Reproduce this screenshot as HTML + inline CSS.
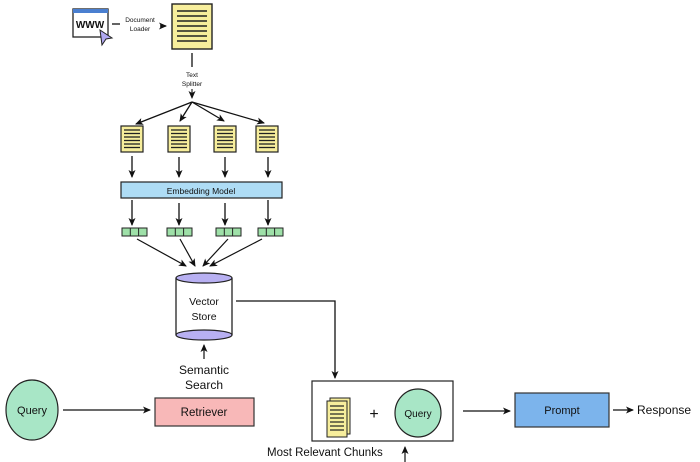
<!DOCTYPE html>
<html><head><meta charset="utf-8"><style>
html,body{margin:0;padding:0;background:#fff}
svg{display:block}
text{font-family:"Liberation Sans",sans-serif;fill:#111}
</style></head><body>
<svg width="700" height="462" viewBox="0 0 700 462" xmlns="http://www.w3.org/2000/svg">
<defs>
<marker id="a" markerWidth="8" markerHeight="8" refX="7" refY="4" orient="auto" markerUnits="userSpaceOnUse"><path d="M0,0.5 L8,4 L0,7.5 L2,4 Z" fill="#111"/></marker>
<g id="doc"><rect x="0" y="0" width="22" height="26" fill="#f7ee9c" stroke="#222" stroke-width="1.2"/>
<g stroke="#222" stroke-width="1.3"><line x1="3" y1="4" x2="19" y2="4"/><line x1="3" y1="7.5" x2="19" y2="7.5"/><line x1="3" y1="11" x2="19" y2="11"/><line x1="3" y1="14.5" x2="19" y2="14.5"/><line x1="3" y1="18" x2="19" y2="18"/><line x1="3" y1="21.5" x2="19" y2="21.5"/></g></g>
<g id="vec"><rect x="0" y="0" width="25" height="8" fill="#9ee0a8" stroke="#222" stroke-width="1"/><line x1="8.3" y1="0" x2="8.3" y2="8" stroke="#222"/><line x1="16.6" y1="0" x2="16.6" y2="8" stroke="#222"/></g>
</defs>
<g stroke="#111" stroke-width="1.3" fill="none">
<!-- www -->
<rect x="73" y="9" width="35" height="28" fill="#fff" stroke="#222"/>
<rect x="73" y="9" width="35" height="4" fill="#4a7fd0" stroke="none"/>
</g>
<text x="90" y="28" font-size="10" font-weight="bold" text-anchor="middle">WWW</text>
<path d="M100,30 L112,38 L106,39 L102,45 Z" fill="#b0a8f0" stroke="#222" stroke-width="1"/>
<line x1="112" y1="24" x2="120" y2="24" stroke="#111" stroke-width="1.3"/>
<text x="140" y="22" font-size="6.5" text-anchor="middle" fill="#333">Document</text>
<text x="140" y="31" font-size="6.5" text-anchor="middle" fill="#333">Loader</text>
<line x1="160" y1="26" x2="166" y2="26" stroke="#111" stroke-width="1.3" marker-end="url(#a)"/>
<!-- big doc -->
<rect x="172" y="4" width="40" height="45" fill="#f7ee9c" stroke="#222" stroke-width="1.4"/>
<g stroke="#222" stroke-width="1.5">
<line x1="177" y1="11" x2="207" y2="11"/><line x1="177" y1="16" x2="207" y2="16"/><line x1="177" y1="21" x2="207" y2="21"/><line x1="177" y1="26" x2="207" y2="26"/><line x1="177" y1="31" x2="207" y2="31"/><line x1="177" y1="36" x2="207" y2="36"/><line x1="177" y1="41" x2="207" y2="41"/></g>
<line x1="192" y1="53" x2="192" y2="67" stroke="#111" stroke-width="1.3"/>
<text x="192" y="77" font-size="6.5" text-anchor="middle" fill="#333">Text</text>
<text x="192" y="86" font-size="6.5" text-anchor="middle" fill="#333">Splitter</text>
<line x1="192" y1="89" x2="192" y2="98" stroke="#111" stroke-width="1.1" marker-end="url(#a)"/>
<g stroke="#111" stroke-width="1.3" fill="none">
<line x1="192" y1="102" x2="136" y2="124" marker-end="url(#a)"/>
<line x1="192" y1="102" x2="180" y2="121" marker-end="url(#a)"/>
<line x1="192" y1="102" x2="224" y2="121" marker-end="url(#a)"/>
<line x1="192" y1="102" x2="264" y2="123" marker-end="url(#a)"/>
</g>
<use href="#doc" x="121" y="126"/><use href="#doc" x="168" y="126"/><use href="#doc" x="214" y="126"/><use href="#doc" x="256" y="126"/>
<g stroke="#111" stroke-width="1.3">
<line x1="132" y1="156" x2="132" y2="177" marker-end="url(#a)"/>
<line x1="179" y1="157" x2="179" y2="177" marker-end="url(#a)"/>
<line x1="225" y1="157" x2="225" y2="177" marker-end="url(#a)"/>
<line x1="268" y1="157" x2="268" y2="177" marker-end="url(#a)"/>
</g>
<rect x="121" y="182" width="161" height="16" fill="#aedcf5" stroke="#222" stroke-width="1.2"/>
<text x="201" y="194" font-size="8.5" text-anchor="middle">Embedding Model</text>
<g stroke="#111" stroke-width="1.3">
<line x1="132" y1="200" x2="132" y2="225" marker-end="url(#a)"/>
<line x1="179" y1="203" x2="179" y2="225" marker-end="url(#a)"/>
<line x1="225" y1="203" x2="225" y2="225" marker-end="url(#a)"/>
<line x1="268" y1="200" x2="268" y2="225" marker-end="url(#a)"/>
</g>
<use href="#vec" x="122" y="228"/><use href="#vec" x="167" y="228"/><use href="#vec" x="216" y="228"/><use href="#vec" x="258" y="228"/>
<g stroke="#111" stroke-width="1.2">
<line x1="137" y1="239" x2="186" y2="266" marker-end="url(#a)"/>
<line x1="180" y1="239" x2="195" y2="266" marker-end="url(#a)"/>
<line x1="228" y1="239" x2="203" y2="266" marker-end="url(#a)"/>
<line x1="262" y1="239" x2="210" y2="266" marker-end="url(#a)"/>
</g>
<!-- cylinder -->
<rect x="176" y="278" width="56" height="57" fill="#fff" stroke="none"/>
<line x1="176" y1="278" x2="176" y2="335" stroke="#222" stroke-width="1.3"/>
<line x1="232" y1="278" x2="232" y2="335" stroke="#222" stroke-width="1.3"/>
<ellipse cx="204" cy="335" rx="28" ry="5" fill="#b8b0f2" stroke="#222" stroke-width="1.2"/>
<ellipse cx="204" cy="278" rx="28" ry="5" fill="#b8b0f2" stroke="#222" stroke-width="1.2"/>
<text x="204" y="305" font-size="10.5" text-anchor="middle">Vector</text>
<text x="204" y="320" font-size="10.5" text-anchor="middle">Store</text>
<polyline points="236,301 335,301 335,378" fill="none" stroke="#111" stroke-width="1.3" marker-end="url(#a)"/>
<line x1="204" y1="359" x2="204" y2="345" stroke="#111" stroke-width="1.2" marker-end="url(#a)"/>
<text x="204" y="374" font-size="12" text-anchor="middle">Semantic</text>
<text x="204" y="389" font-size="12" text-anchor="middle">Search</text>
<ellipse cx="32" cy="410" rx="26" ry="30" fill="#a8e6c6" stroke="#222" stroke-width="1.2"/>
<text x="32" y="414" font-size="11" text-anchor="middle">Query</text>
<line x1="63" y1="410" x2="150" y2="410" stroke="#111" stroke-width="1.3" marker-end="url(#a)"/>
<rect x="155" y="398" width="99" height="28" fill="#f8b8b8" stroke="#333" stroke-width="1.2"/>
<text x="204" y="416" font-size="11.5" text-anchor="middle">Retriever</text>
<rect x="312" y="381" width="141" height="60" fill="#fff" stroke="#222" stroke-width="1.2"/>
<rect x="330" y="398" width="20" height="36" fill="#f7ee9c" stroke="#222" stroke-width="1"/>
<rect x="327" y="401" width="20" height="36" fill="#f7ee9c" stroke="#222" stroke-width="1"/>
<g stroke="#222" stroke-width="1.2"><line x1="330" y1="406" x2="344" y2="406"/><line x1="330" y1="410" x2="344" y2="410"/><line x1="330" y1="414" x2="344" y2="414"/><line x1="330" y1="418" x2="344" y2="418"/><line x1="330" y1="422" x2="344" y2="422"/><line x1="330" y1="426" x2="344" y2="426"/><line x1="330" y1="430" x2="344" y2="430"/></g>
<text x="374" y="419" font-size="16" text-anchor="middle">+</text>
<ellipse cx="418" cy="413" rx="23" ry="24" fill="#a8e6c6" stroke="#222" stroke-width="1.2"/>
<text x="418" y="417" font-size="10" text-anchor="middle">Query</text>
<line x1="463" y1="411" x2="510" y2="411" stroke="#111" stroke-width="1.3" marker-end="url(#a)"/>
<rect x="515" y="393" width="94" height="34" fill="#7cb4ec" stroke="#333" stroke-width="1.2"/>
<text x="562" y="414" font-size="11" text-anchor="middle">Prompt</text>
<line x1="613" y1="410" x2="633" y2="410" stroke="#111" stroke-width="1.3" marker-end="url(#a)"/>
<text x="637" y="414" font-size="12">Response</text>
<text x="267" y="456" font-size="11.5">Most Relevant Chunks</text>
<line x1="405" y1="462" x2="405" y2="447" stroke="#111" stroke-width="1.2" marker-end="url(#a)"/>
</svg>
</body></html>
